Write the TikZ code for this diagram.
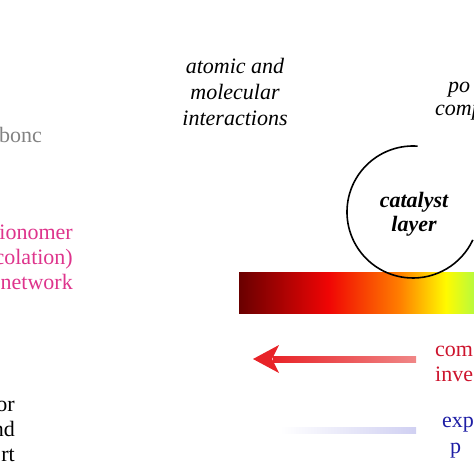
\documentclass[tikz,border=0pt]{standalone}
\usepackage{fontspec}
\setmainfont{Liberation Serif}
\usetikzlibrary{arrows.meta,calc,positioning}
\definecolor{dark_gray}{RGB}{130,130,130}
\definecolor{ionomer_pink}{RGB}{222,52,140}
\definecolor{model_red}{RGB}{205,20,45}
\definecolor{exp_blue}{RGB}{30,30,165}
\definecolor{arrow_red}{RGB}{232,35,40}
\definecolor{arrow_light}{RGB}{240,135,135}
\definecolor{line_blue}{RGB}{208,208,242}
\definecolor{bar_a}{RGB}{105,0,0}
\definecolor{bar_b}{RGB}{240,5,5}
\definecolor{bar_c}{RGB}{255,125,0}
\definecolor{bar_d}{RGB}{255,250,0}
\definecolor{bar_e}{RGB}{185,250,60}
\pgfdeclarehorizontalshading{scale_bar}{100bp}{color(0bp)=(bar_a); color(25bp)=(bar_a);
  color(44bp)=(bar_b); color(59bp)=(bar_c); color(69bp)=(bar_d); color(75bp)=(bar_e); color(100bp)=(bar_e)}
\tikzset{
  label_text/.style={inner sep=0pt, font=\fontsize{22}{25}\selectfont},
  scale_text/.style={inner sep=0pt, align=center, font=\fontsize{22}{26}\selectfont\itshape},
}

\begin{document}
\begin{tikzpicture}[x=1pt,y=-1pt]
        \useasboundingbox (0,0) rectangle (474,474);
        \clip (0,0) rectangle (474,474);

        % length scales
        \node[scale_text, anchor=base] (title_atomic) at (235,125) {atomic and\\molecular\\interactions};
        \node[scale_text, anchor=base west] (title_pore1) at (448,92) {po};
        \node[scale_text, anchor=base west] (title_pore2) at (435,115) {comp};

        % gradient bar
        \shade[shading=scale_bar] (239,272) rectangle (474,313);

        % catalyst layer (y axis is flipped, so angles are negated)
        \coordinate (layer_center) at (413,212);
        \draw[line width=1.6pt] ($(layer_center)+(-86:66)$) arc[start angle=-86, end angle=-335, radius=66];
        \node[scale_text, font=\fontsize{22}{24}\selectfont\bfseries\itshape, anchor=base] (layer) at (414,231) {catalyst\\layer};

        % left column
        \node[label_text, anchor=base east, text=dark_gray] (carbon) at (42,142) {bonc};
        \node[label_text, anchor=base east, align=right, text=ionomer_pink] (ionomer) at (73,289) {ionomer\\colation)\\network};
        \node[label_text, anchor=base east, align=right] (transport) at (15,461) {or\\nd\\rt};

        % right column
        \node[label_text, anchor=base west, align=left, text=model_red] (model) at (435,381) {com\\inve};
        \node[label_text, anchor=base west, text=exp_blue] (exp1) at (442,427) {exp};
        \node[label_text, anchor=base west, text=exp_blue] (exp2) at (450,453) {p};

        % arrows
        \coordinate (arrow_tail) at (416,359);
        \coordinate (arrow_tip) at (253,359);
        \shade[left color=arrow_red, right color=arrow_light]
            ($(arrow_tip)+(20,-3)$) rectangle ($(arrow_tail)+(0,3)$);
        \fill[arrow_red] (arrow_tip) -- ($(arrow_tip)+(26,-14)$) -- ($(arrow_tip)+(19,0)$)
            -- ($(arrow_tip)+(26,14)$) -- cycle;
        \coordinate (probe_tail) at (416,430);
        \coordinate (probe_tip) at (280,430);
        \shade[left color=white, right color=line_blue]
            ($(probe_tip)+(0,-3)$) rectangle ($(probe_tail)+(0,3)$);
\end{tikzpicture}
\end{document}
